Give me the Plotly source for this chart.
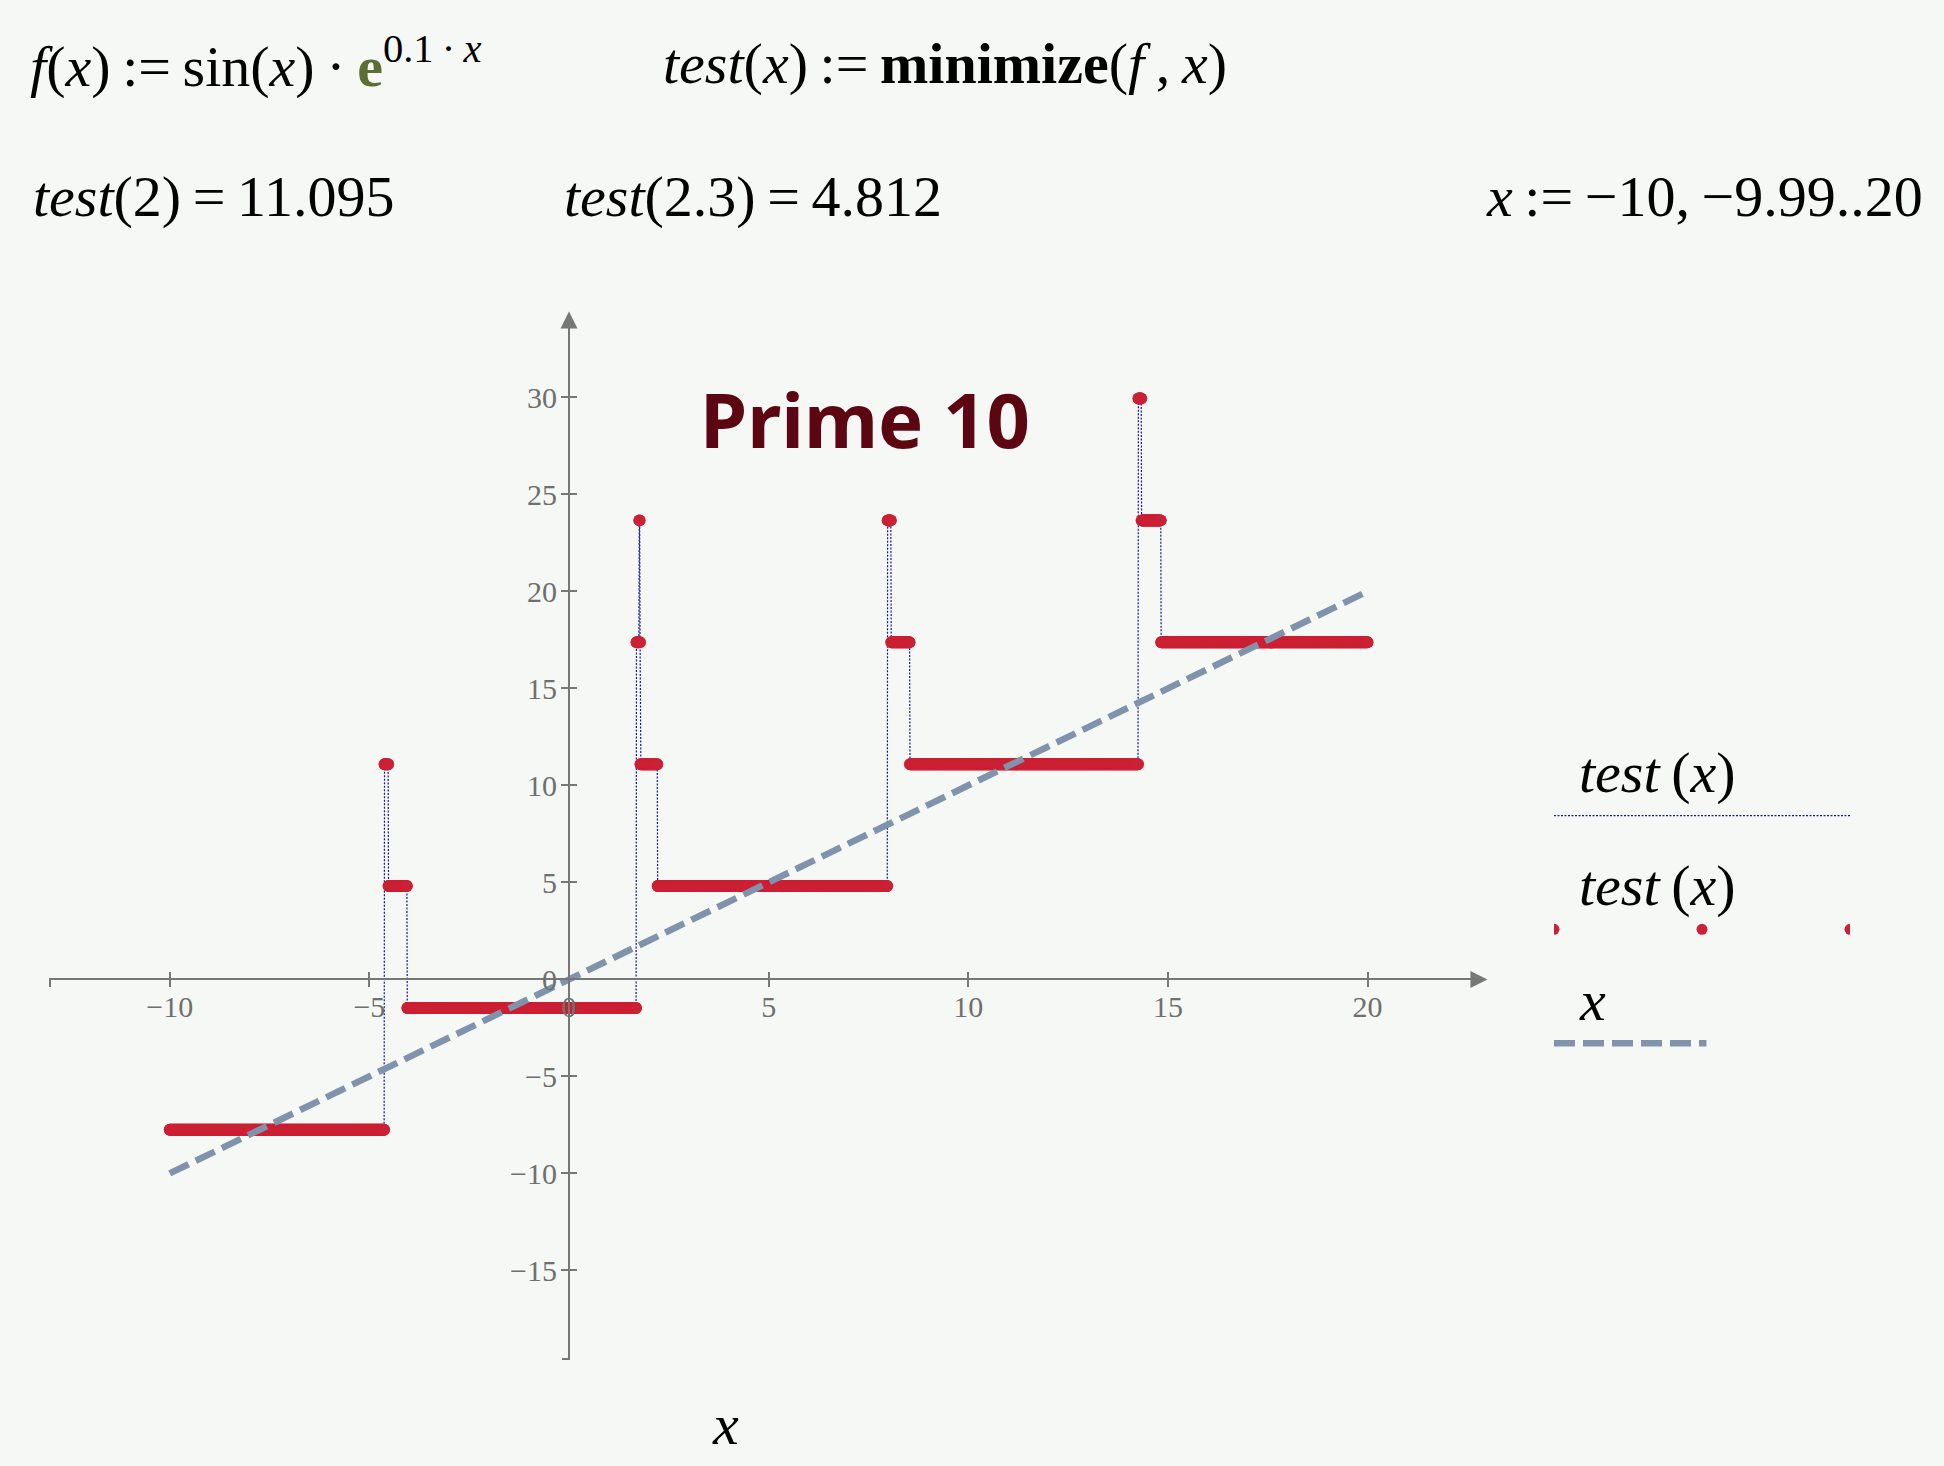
import numpy as np
import plotly.graph_objects as go

# ---------------- data ----------------
# range variable x := -10, -9.99 .. 20
X_START, X_STOP, X_STEP = -10.0, 20.0, 0.01
# test(x) is piecewise constant: value of the local minimum reached from x
step_start = [-10.0, -4.62, -4.52, -4.05, 1.69, 1.76, 1.78, 1.79, 2.22,
              7.98, 8.07, 8.54, 14.26, 14.34, 14.83]
step_level = [-7.754, 11.095, 4.812, -1.471, 17.378, 23.661, 17.378, 11.095, 4.812,
              23.661, 17.378, 11.095, 29.944, 23.661, 17.378]
x_ticks = [-10, -5, 0, 5, 10, 15, 20]
y_ticks = [-15, -10, -5, 0, 5, 10, 15, 20, 25, 30]

n = int(round((X_STOP - X_START) / X_STEP)) + 1
xs = np.round(X_START + X_STEP * np.arange(n), 2)
idx = np.searchsorted(np.array(step_start), xs + 1e-9, side="right") - 1
ys = np.array(step_level)[idx]

# ---------------- layout geometry ----------------
W, H = 1944, 1466
PX0, PXU = 569.0, 39.93      # pixel of x=0, pixels per unit
PY0, PYU = 979.4, 19.4       # pixel of y=0, pixels per unit
XR = [-13.02, 22.6]
YR = [-19.6, 33.6]
X_CAP, Y_CAP = -13.0, -19.55

xdom = [(PX0 + XR[0] * PXU) / W, (PX0 + XR[1] * PXU) / W]
ydom = [1 - (PY0 - YR[0] * PYU) / H, 1 - (PY0 - YR[1] * PYU) / H]
xpos = 1 - PY0 / H
ypos = PX0 / W

BG = "#f6f8f5"
AX = "#777777"
RED = "#cc2034"
BLUE = "#1414a8"
SLATE = "#7f93ad"
MATH = "Liberation Serif"
DOT = dict(color=BLUE, width=1.2, dash="2px,1.5px")
DASH = dict(color=SLATE, width=6.5, dash="21px,8px")

def fmt(v):
    return ("\u2212" + str(abs(v))) if v < 0 else str(v)

fig = go.Figure()

# dotted line test(x)
fig.add_trace(go.Scatter(x=xs, y=ys, mode="lines", line=DOT, hoverinfo="skip"))
# points test(x)
fig.add_trace(go.Scatter(x=xs, y=ys, mode="markers",
                         marker=dict(size=12, color=RED, line=dict(width=0)),
                         hoverinfo="skip"))
# dashed line x (on overlay axes -> drawn on top)
fig.add_trace(go.Scatter(x=xs, y=xs, mode="lines", xaxis="x2", yaxis="y2",
                         line=DASH, hoverinfo="skip"))
# empty trace so the axis-end cap axes are drawn
fig.add_trace(go.Scatter(x=[], y=[], xaxis="x4", yaxis="y4", hoverinfo="skip"))

# ---------------- legend samples ----------------
LEG_X0, LEG_X1 = 1554, 1850
LEG_Y0, LEG_Y1 = 800, 1060
def ly(p):
    return (LEG_Y1 - p) / (LEG_Y1 - LEG_Y0)
fig.add_trace(go.Scatter(x=[0, 2], y=[ly(815.7)] * 2, mode="lines", xaxis="x3", yaxis="y3",
                         line=DOT, hoverinfo="skip"))
fig.add_trace(go.Scatter(x=[0, 1, 2], y=[ly(929.3)] * 3, mode="markers", xaxis="x3", yaxis="y3",
                         marker=dict(size=11, color=RED), cliponaxis=True, hoverinfo="skip"))
fig.add_trace(go.Scatter(x=[0, 1.03], y=[ly(1043.3)] * 2, mode="lines", xaxis="x3", yaxis="y3",
                         line=DASH, hoverinfo="skip"))

tickfont = dict(family=MATH, size=30, color="#6f6f6f")
common = dict(showgrid=False, zeroline=False, ticklen=7, tickwidth=2, tickcolor=AX)

fig.update_layout(
    width=W, height=H, autosize=False,
    margin=dict(l=0, r=0, t=0, b=0),
    paper_bgcolor=BG, plot_bgcolor=BG,
    showlegend=False,
    xaxis=dict(domain=xdom, range=XR, anchor="free", position=xpos,
               showline=True, linecolor=AX, linewidth=2, ticks="outside",
               tickvals=x_ticks, ticktext=[fmt(v) for v in x_ticks],
               tickfont=tickfont, ticklabelstandoff=-6, **common),
    yaxis=dict(domain=ydom, range=YR, anchor="free", position=ypos,
               showline=True, linecolor=AX, linewidth=2, ticks="outside",
               tickvals=y_ticks, ticktext=[fmt(v) for v in y_ticks],
               tickfont=tickfont, ticklabelstandoff=-2, **common),
    xaxis2=dict(overlaying="x", domain=xdom, range=XR, anchor="free", position=xpos,
                showline=False, ticks="inside", showticklabels=False,
                tickvals=[X_CAP] + x_ticks, **common),
    yaxis2=dict(overlaying="y", domain=ydom, range=YR, anchor="free", position=ypos,
                showline=False, ticks="inside", showticklabels=False,
                tickvals=[Y_CAP] + y_ticks, **common),
    xaxis4=dict(overlaying="x", domain=xdom, range=XR, anchor="free", position=xpos,
                showline=False, ticks="outside", showticklabels=False,
                tickvals=[X_CAP], **common),
    yaxis4=dict(overlaying="y", domain=ydom, range=YR, anchor="free", position=ypos,
                showline=False, ticks="outside", showticklabels=False,
                tickvals=[Y_CAP], **common),
    xaxis3=dict(domain=[LEG_X0 / W, LEG_X1 / W], range=[0, 2], anchor="y3", visible=False),
    yaxis3=dict(domain=[1 - LEG_Y1 / H, 1 - LEG_Y0 / H], range=[0, 1], anchor="x3", visible=False),
)

# axis arrowheads (paper-referenced so they are not clipped)
x_end_px = PX0 + XR[1] * PXU
y_end_px = PY0 - YR[1] * PYU
fig.add_shape(type="path", xref="paper", yref="paper", xsizemode="pixel", ysizemode="pixel",
              xanchor=x_end_px / W, yanchor=xpos, path="M -1 -8.5 L 16 0 L -1 8.5 Z",
              fillcolor=AX, line=dict(width=0))
fig.add_shape(type="path", xref="paper", yref="paper", xsizemode="pixel", ysizemode="pixel",
              xanchor=ypos, yanchor=1 - y_end_px / H, path="M -8.5 -1 L 8.5 -1 L 0 16 Z",
              fillcolor=AX, line=dict(width=0))

def note(text, px, py, size=58, anchor="left", color="black", family=MATH):
    fig.add_annotation(text=text, x=px / W, y=1 - py / H, xref="paper", yref="paper",
                       xanchor=anchor, yanchor="middle", showarrow=False,
                       font=dict(family=family, size=size, color=color))

S = "\u2009"
E = "<span style='color:#5b6e33'><b>e</b></span>"
note("<i>f</i>(<i>x</i>)" + S + ":=" + S + "sin(<i>x</i>)" + S + "\u00b7" + S + E +
     "<sup>0.1" + S + "\u00b7" + S + "<i>x</i></sup>", 28, 62)
note("<i>test</i>(<i>x</i>)" + S + ":=" + S + "<b>minimize</b>(<i>f</i>" + S + "," + S + "<i>x</i>)",
     661, 64)
note("<i>test</i>(2)" + S + "=" + S + "11.095", 31, 196)
note("<i>test</i>(2.3)" + S + "=" + S + "4.812", 562, 196)
note("<i>x</i>" + S + ":=" + S + "\u221210," + S + "\u22129.99..20", 1925, 196, anchor="right")

# title
note("<b>Prime 10</b>", 865, 418, size=76, anchor="center", color="#5b0610", family="Noto Sans")

# legend labels
note("<i>test</i>" + S + "(<i>x</i>)", 1577, 772)
note("<i>test</i>" + S + "(<i>x</i>)", 1577, 885)
note("<i>x</i>", 1577, 1000)

# x-axis title
note("<i>x</i>", 725, 1424, anchor="center")

fig.write_html(
    "out.html",
    config={"displayModeBar": False},
    post_script="document.body.style.margin='0';document.body.style.background='%s';" % BG,
)
